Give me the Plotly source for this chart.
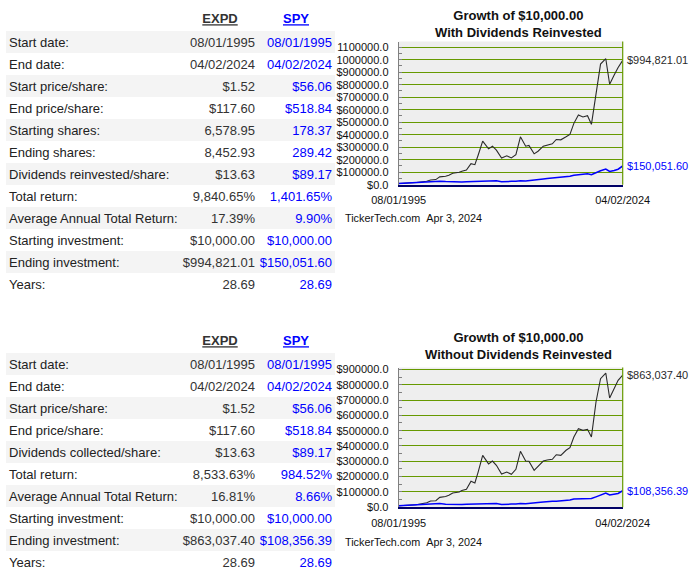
import plotly.graph_objects as go

FONT = "Liberation Sans, Arial, sans-serif"
W, H = 699, 572

# ---------------- data ----------------
DATES = ["1995-08-01", "1996-12-01", "1997-11-01", "1999-03-01", "1999-09-01", "2000-05-01",
         "2000-11-01", "2001-08-01", "2002-01-01", "2002-07-01", "2003-05-01", "2003-09-01",
         "2004-04-01", "2004-11-01", "2005-05-01", "2005-10-01", "2006-05-01", "2007-02-01",
         "2007-08-01", "2008-02-01", "2008-10-01", "2009-06-01", "2010-01-01", "2010-08-01",
         "2011-03-01", "2011-11-01", "2012-04-01", "2012-12-01", "2013-06-01", "2014-02-01",
         "2014-08-01", "2015-04-01", "2015-10-01", "2016-05-01", "2017-01-01", "2017-07-01",
         "2018-01-01", "2018-08-01", "2019-03-01", "2019-10-01", "2020-04-01", "2020-11-01",
         "2021-06-01", "2022-02-01", "2022-08-01", "2023-03-01", "2023-09-01", "2024-04-02"]

# Growth of $10,000 with dividends reinvested
EXPD_WITH = [10000, 13000, 18000, 27000, 38000, 41000, 63000, 68000, 76000, 92000, 99000, 108000,
             117000, 168000, 160000, 236000, 349000, 287000, 308000, 276000, 214000, 231000, 214000, 241000,
             383000, 308000, 314000, 247000, 268000, 308000, 316000, 327000, 362000, 359000, 383000, 402000,
             491000, 558000, 542000, 552000, 483000, 710000, 965000, 1008000, 804000, 877000, 938000, 994821.01]
SPY_WITH = [10000, 14000, 19000, 26000, 27000, 30000, 28000, 25000, 24000, 20000, 20000, 22000,
            24000, 25000, 26000, 27000, 29000, 32000, 34000, 31000, 23000, 22000, 27000, 27000,
            32000, 30000, 34000, 36000, 41000, 46000, 50000, 54000, 53000, 56000, 63000, 68000,
            76000, 79000, 81000, 87000, 80000, 98000, 112000, 125000, 106000, 113000, 124000, 150051.60]

# Growth of $10,000 without dividends reinvested
EXPD_WITHOUT = [10000, 12000, 17000, 30000, 41000, 43000, 65000, 70000, 78000, 93000, 100000, 109000,
                117000, 170000, 159000, 230000, 339000, 283000, 302000, 274000, 217000, 230000, 215000, 248000,
                365000, 302000, 300000, 241000, 270000, 302000, 309000, 313000, 343000, 339000, 372000, 389000,
                459000, 513000, 502000, 509000, 459000, 687000, 839000, 876000, 713000, 774000, 828000, 863037.40]
SPY_WITHOUT = [10000, 13500, 17000, 23000, 23500, 25500, 24000, 20500, 20000, 16500, 17000, 18000,
               20000, 20500, 21000, 21500, 23000, 26000, 27000, 24500, 18000, 17000, 21000, 21000,
               25000, 23500, 27000, 28000, 32000, 35000, 38000, 40000, 39000, 41000, 45000, 48000,
               54000, 56000, 56000, 60000, 57000, 68000, 80000, 93000, 80000, 85000, 90000, 108356.39]

X_TICKTEXT = ["08/01/1995", "04/02/2024"]
Y1_TICKVALS = [0, 100000, 200000, 300000, 400000, 500000, 600000, 700000, 800000, 900000, 1000000, 1100000]
Y1_TICKTEXT = ["$0.0", "$100000.0", "$200000.0", "$300000.0", "$400000.0", "$500000.0", "$600000.0",
               "$700000.0", "$800000.0", "$900000.0", "1000000.0", "1100000.0"]
Y2_TICKVALS = [0, 100000, 200000, 300000, 400000, 500000, 600000, 700000, 800000, 900000]
Y2_TICKTEXT = ["$0.0", "$100000.0", "$200000.0", "$300000.0", "$400000.0", "$500000.0", "$600000.0",
               "$700000.0", "$800000.0", "$900000.0"]

CHART_TITLES = ["Growth of $10,000.00<br>With Dividends Reinvested",
                "Growth of $10,000.00<br>Without Dividends Reinvested"]
SOURCE_NOTE = "TickerTech.com\u00a0\u00a0Apr 3, 2024"

TICKERS = ["EXPD", "SPY"]
TABLE1_LABELS = ["Start date:", "End date:", "Start price/share:", "End price/share:", "Starting shares:",
                 "Ending shares:", "Dividends reinvested/share:", "Total return:",
                 "Average Annual Total Return:", "Starting investment:", "Ending investment:", "Years:"]
TABLE1_EXPD = ["08/01/1995", "04/02/2024", "$1.52", "$117.60", "6,578.95", "8,452.93", "$13.63",
               "9,840.65%", "17.39%", "$10,000.00", "$994,821.01", "28.69"]
TABLE1_SPY = ["08/01/1995", "04/02/2024", "$56.06", "$518.84", "178.37", "289.42", "$89.17",
              "1,401.65%", "9.90%", "$10,000.00", "$150,051.60", "28.69"]
TABLE2_LABELS = ["Start date:", "End date:", "Start price/share:", "End price/share:",
                 "Dividends collected/share:", "Total return:", "Average Annual Total Return:",
                 "Starting investment:", "Ending investment:", "Years:"]
TABLE2_EXPD = ["08/01/1995", "04/02/2024", "$1.52", "$117.60", "$13.63", "8,533.63%", "16.81%",
               "$10,000.00", "$863,037.40", "28.69"]
TABLE2_SPY = ["08/01/1995", "04/02/2024", "$56.06", "$518.84", "$89.17", "984.52%", "8.66%",
              "$10,000.00", "$108,356.39", "28.69"]

# ---------------- style ----------------
C_EXPD = "#2a2a2a"
C_SPY = "#0000ff"
C_GRID = "#669900"
C_PLOTBG = "#eeeeee"
C_BAND = "#f4f4f4"
TICK_SIZE = 11


def px_x(p):
    return p / W


def px_y(p):
    return 1 - p / H


fig = go.Figure()

# ---------------- charts ----------------
charts = [
    dict(xa="x", ya="y", expd=EXPD_WITH, spy=SPY_WITH, top=41.5, bottom=184.7,
         ymax=1146000, tv=Y1_TICKVALS, tt=Y1_TICKTEXT, title_y=24.3, note_y=218),
    dict(xa="x2", ya="y2", expd=EXPD_WITHOUT, spy=SPY_WITHOUT, top=367.5, bottom=507.3,
         ymax=912000, tv=Y2_TICKVALS, tt=Y2_TICKTEXT, title_y=346, note_y=542),
]
PLOT_L, PLOT_R = 398.7, 622.7

for i, ch in enumerate(charts):
    fig.add_trace(go.Scatter(x=DATES, y=ch["expd"], mode="lines", xaxis=ch["xa"], yaxis=ch["ya"],
                             line=dict(color=C_EXPD, width=1.1), hoverinfo="skip", showlegend=False))
    fig.add_trace(go.Scatter(x=DATES, y=ch["spy"], mode="lines", xaxis=ch["xa"], yaxis=ch["ya"],
                             line=dict(color=C_SPY, width=1.5), hoverinfo="skip", showlegend=False))
    sfx = "" if i == 0 else "2"
    fig.update_layout(**{
        "xaxis" + sfx: dict(domain=[px_x(PLOT_L), px_x(PLOT_R)], anchor="y" + sfx, type="date",
                            range=[DATES[0], DATES[-1]], tickmode="array",
                            tickvals=[DATES[0], DATES[-1]], ticktext=X_TICKTEXT,
                            showgrid=False, zeroline=False, showline=True, linecolor="#000066",
                            linewidth=2, ticks="", ticklabelstandoff=4, automargin=False,
                            tickfont=dict(family=FONT, size=TICK_SIZE, color="#111111")),
        "yaxis" + sfx: dict(domain=[px_y(ch["bottom"]), px_y(ch["top"])], anchor="x" + sfx,
                            range=[0, ch["ymax"]], tickmode="array", tickvals=ch["tv"],
                            ticktext=ch["tt"], ticks="inside", ticklen=3, tickcolor="#808080",
                            minor=dict(tickmode="linear", tick0=0, dtick=50000, ticks="inside",
                                       ticklen=3, tickcolor="#808080", showgrid=False),
                            showline=True, linecolor="#808080", linewidth=1,
                            showgrid=True, gridcolor=C_GRID, gridwidth=1, zeroline=False,
                            ticklabelstandoff=7, automargin=False,
                            tickfont=dict(family=FONT, size=TICK_SIZE, color="#111111")),
    })
    # plot background and green right border
    fig.add_shape(type="rect", xref=ch["xa"] + " domain", yref=ch["ya"] + " domain",
                  x0=0, x1=1, y0=0, y1=1, fillcolor=C_PLOTBG, line=dict(width=0), layer="below")
    fig.add_shape(type="line", xref=ch["xa"] + " domain", yref=ch["ya"] + " domain",
                  x0=1, x1=1, y0=0, y1=1, line=dict(color=C_GRID, width=1.2))
    # end-value labels
    for series, col in ((ch["expd"], C_EXPD), (ch["spy"], C_SPY)):
        fig.add_annotation(x=DATES[-1], y=series[-1], xref=ch["xa"], yref=ch["ya"],
                           text="${:,.2f}".format(series[-1]), showarrow=False, xanchor="left",
                           yanchor="middle", xshift=2,
                           font=dict(family=FONT, size=TICK_SIZE, color=col))
    # title and source note
    fig.add_annotation(x=px_x(518), y=px_y(ch["title_y"]), xref="paper", yref="paper",
                       text="<b>" + CHART_TITLES[i] + "</b>", showarrow=False, xanchor="center",
                       yanchor="middle", font=dict(family=FONT, size=13, color="#111111"))
    fig.add_annotation(x=px_x(343), y=px_y(ch["note_y"]), xref="paper", yref="paper",
                       text=SOURCE_NOTE, showarrow=False, xanchor="left", yanchor="middle",
                       font=dict(family=FONT, size=10.8, color="#111111"))

# ---------------- tables ----------------
tables = [
    dict(xa="x3", ya="y3", labels=TABLE1_LABELS, expd=TABLE1_EXPD, spy=TABLE1_SPY,
         first=42, ptop=0, pbot=300),
    dict(xa="x4", ya="y4", labels=TABLE2_LABELS, expd=TABLE2_EXPD, spy=TABLE2_SPY,
         first=364, ptop=322, pbot=572),
]
ROW_H = 22
TEXT_DY = 2 / ROW_H
HEADER_ROW = -24 / ROW_H
COL_LABEL, COL_EXPD, COL_SPY = 9, 255, 332
HDR_EXPD, HDR_SPY = 220, 296
BAND_L, BAND_R = 6, 335

for j, tb in enumerate(tables):
    n = len(tb["labels"])
    rows = list(range(n))
    ty = [r + TEXT_DY for r in rows]
    common = dict(xaxis=tb["xa"], yaxis=tb["ya"], mode="text", hoverinfo="skip",
                  showlegend=False, cliponaxis=False)
    fig.add_trace(go.Scatter(x=[COL_LABEL] * n, y=ty, text=tb["labels"], textposition="middle right",
                             textfont=dict(family=FONT, size=13, color="#222222"), **common))
    fig.add_trace(go.Scatter(x=[COL_EXPD] * n, y=ty, text=tb["expd"], textposition="middle left",
                             textfont=dict(family=FONT, size=13, color="#333333"), **common))
    fig.add_trace(go.Scatter(x=[COL_SPY] * n, y=ty, text=tb["spy"], textposition="middle left",
                             textfont=dict(family=FONT, size=13, color=C_SPY), **common))
    fig.add_trace(go.Scatter(x=[HDR_EXPD, HDR_SPY], y=[HEADER_ROW + TEXT_DY] * 2,
                             text=["<b><u>" + t + "</u></b>" for t in TICKERS],
                             textposition="middle center",
                             textfont=dict(family=FONT, size=13, color=["#333333", C_SPY]), **common))
    for r in rows:
        if r % 2 == 0:
            fig.add_shape(type="rect", xref=tb["xa"], yref=tb["ya"], x0=BAND_L, x1=BAND_R,
                          y0=r - 0.5, y1=r + 0.5, fillcolor=C_BAND, line=dict(width=0), layer="below")
    sfx = str(j + 3)
    r_top = (tb["ptop"] - tb["first"]) / ROW_H
    r_bot = (tb["pbot"] - tb["first"]) / ROW_H
    fig.update_layout(**{
        "xaxis" + sfx: dict(domain=[0, px_x(340)], anchor="y" + sfx, range=[0, 340], visible=False,
                            fixedrange=True, automargin=False),
        "yaxis" + sfx: dict(domain=[px_y(tb["pbot"]), px_y(tb["ptop"])], anchor="x" + sfx,
                            range=[r_bot, r_top], visible=False, fixedrange=True, automargin=False),
    })

fig.update_layout(width=W, height=H, autosize=False, margin=dict(l=0, r=0, t=0, b=0, pad=0),
                  paper_bgcolor="white", plot_bgcolor="white", showlegend=False,
                  font=dict(family=FONT, size=12, color="#222222"))

fig.write_html("out.html", config={"displayModeBar": False},
               post_script="document.body.style.margin='0';")
